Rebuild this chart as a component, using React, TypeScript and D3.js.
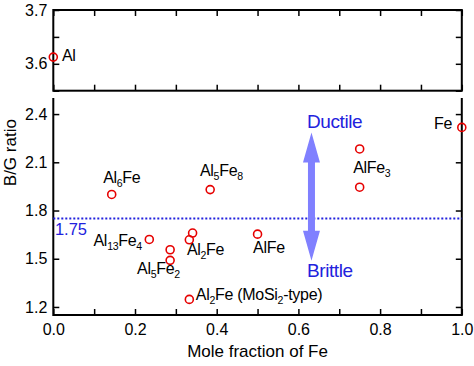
import { useEffect, useRef } from 'react'
import * as d3 from 'd3'

// compounds (lower panel)
const compoundX = [0.143, 0.235, 0.286, 0.286, 0.333, 0.341, 0.333, 0.384, 0.5, 0.75, 0.75, 1.0]
const compoundBG = [1.9, 1.62, 1.556, 1.49, 1.618, 1.66, 1.247, 1.93, 1.653, 2.183, 1.945, 2.317]

// pure Al (upper panel)
const alX = [0]
const alBG = [3.6125]

// labels: text with _{} subscripts, anchor in data units
const labelText = ['Al_{6}Fe', 'Al_{5}Fe_{8}', 'Al_{13}Fe_{4}', 'Al_{2}Fe', 'Al_{5}Fe_{2}', 'Al_{2}Fe (MoSi_{2}-type)', 'AlFe', 'AlFe_{3}', 'Fe']
const labelX = [0.122, 0.359, 0.217, 0.327, 0.205, 0.349, 0.489, 0.734, 0.976]
const labelY = [1.971, 2.015, 1.579, 1.523, 1.405, 1.243, 1.535, 2.033, 2.307]
const labelAnchor = ['start', 'start', 'end', 'start', 'start', 'start', 'start', 'start', 'end']

const xTicks = [0, 0.1, 0.2, 0.3, 0.4, 0.5, 0.6, 0.7, 0.8, 0.9, 1.0]
const topTicks = [3.55, 3.6, 3.65, 3.7]
const bottomTicks = [1.2, 1.5, 1.8, 2.1, 2.4]

const criterion = 1.75
const arrowX = 0.632
const arrowTop = 2.286
const arrowBottom = 1.488

const width = 474
const height = 366
const FONT = '"Liberation Sans", Arial, Helvetica, sans-serif'
const RED = '#e60000'
const BLUE = '#2222dd'

function addLabel(g: any, text: string, x: number, y: number, anchor: string, size: number, spacing = 0) {
  const t = g
    .append('text')
    .attr('x', x)
    .attr('y', y)
    .attr('text-anchor', anchor)
    .attr('font-size', size)
    .attr('letter-spacing', spacing)
  const parts = text.split(/(_\{[^}]*\})/).filter((p) => p.length)
  let shifted = false
  parts.forEach((p) => {
    if (p.startsWith('_{')) {
      t.append('tspan').attr('dy', 4).attr('font-size', size * 0.66).text(p.slice(2, -1))
      shifted = true
    } else {
      const s = t.append('tspan').text(p)
      if (shifted) s.attr('dy', -4)
      shifted = false
    }
  })
  return t
}

function App() {
  const ref = useRef<SVGSVGElement>(null)

  useEffect(() => {
    const svg = d3.select(ref.current)
    svg.selectAll('*').remove()
    svg.style('font-family', FONT)

    const xScale = d3.scaleLinear().domain([0, 1]).range([53.3, 461.8])
    const yTop = d3.scaleLinear().domain([3.55, 3.7]).range([90.7, 10])
    const yBot = d3.scaleLinear().domain([1.15, 2.5]).range([315, 98])

    const styleAxis = (g: any, size: number) => {
      g.select('.domain').remove()
      g.selectAll('line').attr('stroke', '#000').attr('stroke-width', 1.5)
      g.selectAll('text').attr('font-size', size).attr('font-family', FONT).attr('fill', '#000')
    }

    // ---- upper panel
    const top = svg.append('g')
    top
      .append('g')
      .attr('transform', `translate(${xScale(0)},0)`)
      .call(
        d3
          .axisLeft(yTop)
          .tickValues(topTicks)
          .tickSize(-6)
          .tickPadding(6)
          .tickFormat((d: any) => (Math.abs(d * 10 - Math.round(d * 10)) < 1e-6 ? d3.format('.1f')(d) : ''))
      )
      .call((g: any) => styleAxis(g, 16))
    top
      .append('g')
      .attr('transform', `translate(${xScale(1)},0)`)
      .call(d3.axisRight(yTop).tickValues(topTicks).tickSize(-6).tickFormat('' as any))
      .call((g: any) => styleAxis(g, 16))
    top
      .append('g')
      .attr('transform', `translate(0,${yTop(3.7)})`)
      .call(d3.axisTop(xScale).tickValues(xTicks).tickSize(-6).tickFormat('' as any))
      .call((g: any) => styleAxis(g, 16))
    top
      .append('g')
      .attr('transform', `translate(0,${yTop(3.55)})`)
      .call(d3.axisBottom(xScale).tickValues(xTicks).tickSize(-6).tickFormat('' as any))
      .call((g: any) => styleAxis(g, 16))
    top
      .append('rect')
      .attr('x', xScale(0))
      .attr('y', yTop(3.7))
      .attr('width', xScale(1) - xScale(0))
      .attr('height', yTop(3.55) - yTop(3.7))
      .attr('fill', 'none')
      .attr('stroke', '#000')
      .attr('stroke-width', 2)

    top
      .selectAll('circle.al')
      .data(alX)
      .join('circle')
      .attr('class', 'al')
      .attr('cx', (d: number) => xScale(d))
      .attr('cy', (_d: number, i: number) => yTop(alBG[i]))
      .attr('r', 4)
      .attr('fill', 'none')
      .attr('stroke', RED)
      .attr('stroke-width', 1.6)
    addLabel(top, 'Al', xScale(0.021), yTop(3.605), 'start', 16, -0.3)

    // ---- lower panel
    const bot = svg.append('g')
    bot
      .append('g')
      .attr('transform', `translate(${xScale(0)},0)`)
      .call(d3.axisLeft(yBot).tickValues(bottomTicks).tickSize(-6).tickPadding(6).tickFormat(d3.format('.1f') as any))
      .call((g: any) => styleAxis(g, 16))
    bot
      .append('g')
      .attr('transform', `translate(${xScale(1)},0)`)
      .call(d3.axisRight(yBot).tickValues(bottomTicks).tickSize(-6).tickFormat('' as any))
      .call((g: any) => styleAxis(g, 16))
    bot
      .append('g')
      .attr('transform', `translate(0,${yBot(1.15)})`)
      .call(
        d3
          .axisBottom(xScale)
          .tickValues(xTicks)
          .tickSize(-6)
          .tickPadding(9)
          .tickFormat((d: any) => (Math.round(d * 10) % 2 === 0 ? d3.format('.1f')(d) : ''))
      )
      .call((g: any) => styleAxis(g, 16))

    const frame = d3.line()
    bot
      .append('path')
      .attr(
        'd',
        frame([
          [xScale(0), yBot(2.5)],
          [xScale(0), yBot(1.15)],
          [xScale(1), yBot(1.15)],
          [xScale(1), yBot(2.5)],
        ])
      )
      .attr('fill', 'none')
      .attr('stroke', '#000')
      .attr('stroke-width', 2)

    // criterion line
    bot
      .append('line')
      .attr('x1', xScale(0))
      .attr('x2', xScale(1))
      .attr('y1', yBot(criterion))
      .attr('y2', yBot(criterion))
      .attr('stroke', BLUE)
      .attr('stroke-width', 2)
      .attr('stroke-dasharray', '2,2')
    addLabel(bot, '1.75', xScale(0.004), yBot(1.647), 'start', 16.5).attr('fill', BLUE)

    // double arrow
    const ax = xScale(arrowX)
    const y1 = yBot(arrowTop)
    const y2 = yBot(arrowBottom)
    const hw = 8.5
    const sw = 3.5
    const hl = 30
    bot
      .append('path')
      .attr(
        'd',
        d3.line()([
          [ax, y1],
          [ax + hw, y1 + hl],
          [ax + sw, y1 + hl],
          [ax + sw, y2 - hl],
          [ax + hw, y2 - hl],
          [ax, y2],
          [ax - hw, y2 - hl],
          [ax - sw, y2 - hl],
          [ax - sw, y1 + hl],
          [ax - hw, y1 + hl],
        ]) + 'Z'
      )
      .attr('fill', '#8080ff')
    addLabel(bot, 'Ductile', xScale(0.621), yBot(2.313), 'start', 19, -0.4).attr('fill', BLUE)
    addLabel(bot, 'Brittle', xScale(0.621), yBot(1.386), 'start', 19, -0.4).attr('fill', BLUE)

    labelText.forEach((t, i) => {
      addLabel(bot, t, xScale(labelX[i]), yBot(labelY[i]), labelAnchor[i], 16, -0.3)
    })

    bot
      .selectAll('circle.pt')
      .data(compoundX)
      .join('circle')
      .attr('class', 'pt')
      .attr('cx', (d: number) => xScale(d))
      .attr('cy', (_d: number, i: number) => yBot(compoundBG[i]))
      .attr('r', 4)
      .attr('fill', 'none')
      .attr('stroke', RED)
      .attr('stroke-width', 1.6)

    // axis titles
    svg
      .append('text')
      .attr('x', (xScale(0) + xScale(1)) / 2)
      .attr('y', 357)
      .attr('text-anchor', 'middle')
      .attr('font-size', 17)
      .text('Mole fraction of Fe')
    svg
      .append('text')
      .attr('transform', `translate(16,${yBot(2.16)}) rotate(-90)`)
      .attr('text-anchor', 'middle')
      .attr('font-size', 17)
      .text('B/G ratio')
  }, [])

  return (
    <svg
      ref={ref}
      width={width}
      height={height}
      style={{ position: 'absolute', left: 0, top: 0, background: '#fff' }}
    />
  )
}

export default App
